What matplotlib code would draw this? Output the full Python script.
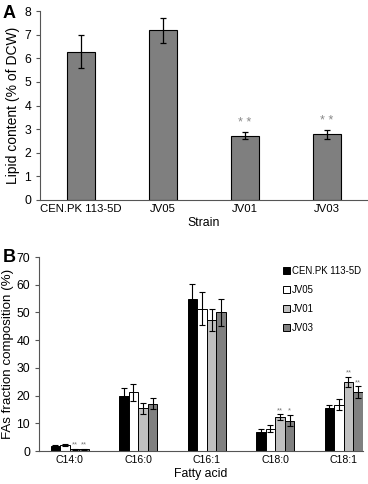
import matplotlib
matplotlib.use("Agg")
import matplotlib.pyplot as plt
import numpy as np

plt.rcParams['font.family'] = ['Liberation Sans', 'DejaVu Sans']

# Panel A data
strains = ["CEN.PK 113-5D", "JV05", "JV01", "JV03"]
lipid = [6.27, 7.18, 2.72, 2.78]
lipid_err = [0.70, 0.55, 0.15, 0.20]
lipid_sig = ["", "", "**", "**"]

# Panel B data
fatty_acids = ["C14:0", "C16:0", "C16:1", "C18:0", "C18:1"]
series_names = ["CEN.PK 113-5D", "JV05", "JV01", "JV03"]
cen = [1.7, 19.9, 55.0, 7.0, 15.5]
jv05 = [2.2, 21.2, 51.3, 8.1, 16.8]
jv01 = [0.6, 15.5, 47.3, 12.2, 24.8]
jv03 = [0.6, 17.0, 50.0, 11.0, 21.3]
cen_err = [0.6, 3.0, 5.2, 1.0, 1.0]
jv05_err = [0.4, 3.0, 6.0, 1.2, 2.0]
jv01_err = [0.2, 2.0, 4.0, 1.0, 1.8]
jv03_err = [0.2, 2.0, 5.0, 2.0, 2.0]
cen_sig = ["", "", "", "", ""]
jv05_sig = ["", "", "", "", ""]
jv01_sig = ["**", "", "", "**", "**"]
jv03_sig = ["**", "", "", "*", "**"]

fig = plt.figure(figsize=(3.68, 4.84), dpi=100)

spine_col = "#555555"

# ---------- Panel A ----------
axA = fig.add_axes([0.109, 0.587, 0.891, 0.390])
x = np.arange(len(strains))
axA.bar(x, lipid, width=0.34, color="#7f7f7f", edgecolor="black", linewidth=0.8,
        yerr=lipid_err, error_kw=dict(ecolor="black", elinewidth=0.9, capsize=2.5, capthick=0.9))
for xi, v, e, s in zip(x, lipid, lipid_err, lipid_sig):
    if s:
        axA.text(xi, v + e + 0.12, "* *", ha="center", va="bottom", fontsize=9, color="#888888")
axA.set_xlim(-0.5, 3.5)
axA.set_ylim(0, 8)
axA.set_yticks(range(0, 9))
axA.set_xticks(x)
axA.set_xticklabels(strains, fontsize=8.2)
axA.tick_params(axis='x', length=0, pad=3)
axA.tick_params(axis='y', labelsize=8.8, length=3, direction='out', color=spine_col)
axA.set_xlabel("Strain", fontsize=8.8, labelpad=2)
axA.set_ylabel("Lipid content (% of DCW)", fontsize=10, labelpad=3)
for sp in ["top", "right"]:
    axA.spines[sp].set_visible(False)
for sp in ["left", "bottom"]:
    axA.spines[sp].set_color(spine_col)
    axA.spines[sp].set_linewidth(0.8)
fig.text(0.008, 0.972, "A", fontsize=13, fontweight="bold", va="center")

# ---------- Panel B ----------
axB = fig.add_axes([0.106, 0.068, 0.880, 0.401])
xb = np.arange(len(fatty_acids))
w = 0.14
colors = ["black", "white", "#c0c0c0", "#808080"]
vals = [cen, jv05, jv01, jv03]
errs = [cen_err, jv05_err, jv01_err, jv03_err]
sigs = [cen_sig, jv05_sig, jv01_sig, jv03_sig]
for i, (name, v, e, c, sg) in enumerate(zip(series_names, vals, errs, colors, sigs)):
    pos = xb + (i - 1.5) * w
    axB.bar(pos, v, width=w, color=c, edgecolor="black", linewidth=0.7, label=name,
            yerr=e, error_kw=dict(ecolor="black", elinewidth=0.8, capsize=2.2, capthick=0.8))
    for p, vv, ee, s in zip(pos, v, e, sg):
        if s:
            axB.text(p, vv + ee + 0.2, s, ha="center", va="bottom", fontsize=5.5, color="#777777")
axB.set_xlim(-0.45, 4.28)
axB.set_ylim(0, 70)
axB.set_yticks(range(0, 71, 10))
axB.set_xticks(xb)
axB.set_xticklabels(fatty_acids, fontsize=7.6)
axB.tick_params(axis='x', length=0, pad=3)
axB.tick_params(axis='y', labelsize=8.8, length=3, direction='out', color=spine_col)
axB.set_xlabel("Fatty acid", fontsize=8.8, labelpad=2)
axB.set_ylabel("FAs fraction composition (%)", fontsize=9.6, labelpad=1.5)
for sp in ["top", "right"]:
    axB.spines[sp].set_visible(False)
for sp in ["left", "bottom"]:
    axB.spines[sp].set_color(spine_col)
    axB.spines[sp].set_linewidth(0.8)
leg = axB.legend(loc="upper right", bbox_to_anchor=(1.02, 1.0), frameon=False, fontsize=6.9,
                 handlelength=0.7, handleheight=0.7, handletextpad=0.2, labelspacing=0.95)
fig.text(0.008, 0.468, "B", fontsize=13, fontweight="bold", va="center")

fig.savefig("out.png", dpi=100)
